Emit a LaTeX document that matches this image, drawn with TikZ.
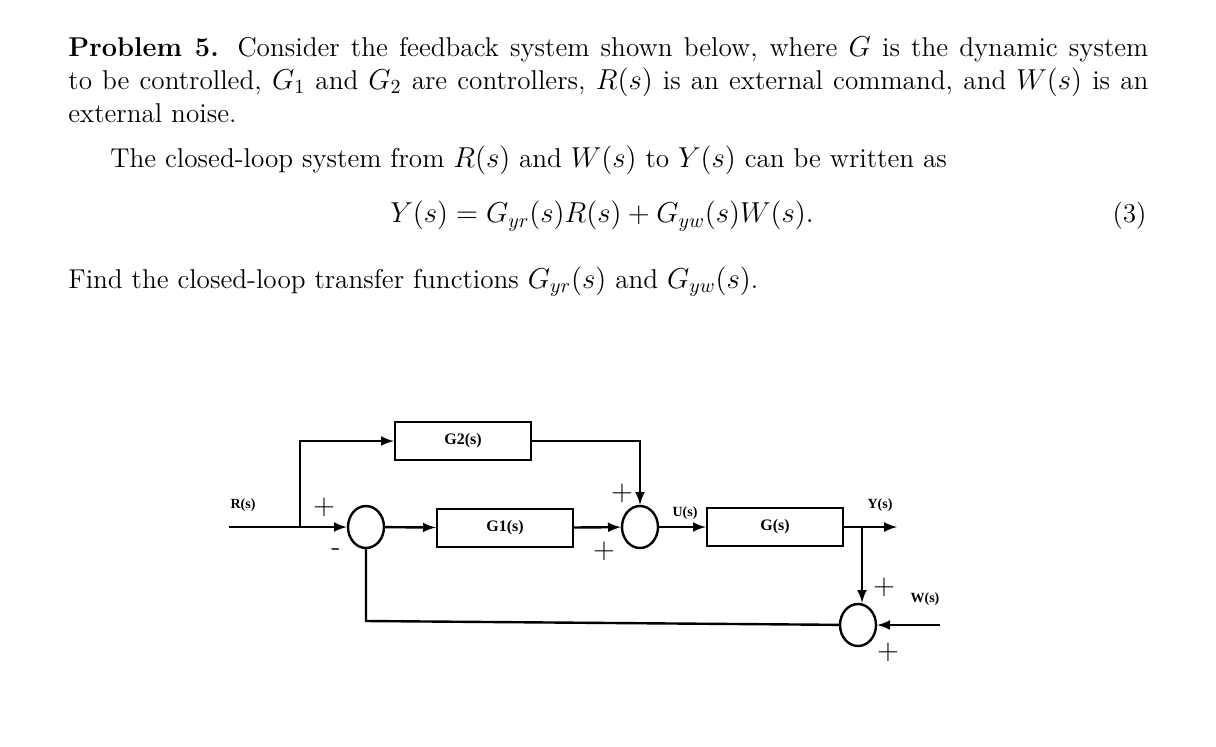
\documentclass[tikz,border=0pt]{standalone}
\usepackage{amsmath}
\usepackage{fontspec}
\usepackage{tikz}
\usetikzlibrary{arrows,shapes.geometric}
\newfontfamily\blockfont{Liberation Serif}
\tikzset{
  blk/.style={draw,line width=1.2pt,minimum width=68pt,minimum height=19pt,font=\blockfont\bfseries\fontsize{8}{9}\selectfont},
  sum/.style={draw,ellipse,line width=1.2pt,minimum width=18pt,minimum height=21pt,inner sep=0pt},
  sig/.style={font=\blockfont\bfseries\fontsize{7}{8}\selectfont},
  sgn/.style={font=\fontsize{14}{14}\selectfont},
  wire/.style={line width=1.2pt}
}
\begin{document}
\begin{tikzpicture}[x=0.5pt,y=-0.5pt]
\useasboundingbox (0,0) rectangle (1216,746);
\fontsize{13.6}{16.5}\selectfont
\node[anchor=north west,inner sep=0pt,text width=540pt,align=justify] (para1) at (68,36)
  {\textbf{Problem 5.} Consider the feedback system shown below, where $G$ is the dynamic system\linebreak
  to be controlled, $G_1$ and $G_2$ are controllers, $R(s)$ is an external command, and $W(s)$ is an\linebreak
  external noise.};
\node[anchor=north west,inner sep=0pt] (para2) at (110,145)
  {The closed-loop system from $R(s)$ and $W(s)$ to $Y(s)$ can be written as};
\node[inner sep=0pt] (eqn) at (602,216) {$Y(s)=G_{yr}(s)R(s)+G_{yw}(s)W(s).$};
\node[anchor=east,inner sep=0pt] (eqno) at (1147,216) {(3)};
\node[anchor=north west,inner sep=0pt] (para3) at (68,266)
  {Find the closed-loop transfer functions $G_{yr}(s)$ and $G_{yw}(s)$.};
% block diagram
\coordinate (rin) at (229,527);
\coordinate (brR) at (300,527);
\node[sum] (s1) at (366,527) {};
\node[blk] (g1) at (505,528) {G1(s)};
\node[blk] (g2) at (463,441) {G2(s)};
\node[sum] (s2) at (640,527) {};
\node[blk] (g) at (775,527) {G(s)};
\coordinate (yout) at (897,527);
\coordinate (brY) at (862,527);
\node[sum] (s3) at (858,625) {};
\coordinate (win) at (940,625);
\draw[wire,-latex] (rin) -- (s1);
\draw[wire,-latex] (brR) |- (g2);
\draw[wire,-latex] (g2) -| (s2);
\draw[wire,-latex] (s1) -- (g1);
\draw[wire,-latex] (g1) -- (s2);
\draw[wire,-latex] (s2) -- (g);
\draw[wire,-latex] (g) -- (yout);
\draw[wire,-latex] (brY) -- (brY |- s3.north);
\draw[wire,-latex] (win) -- (s3);
\draw[wire] (s3) -- (366,621) -- (s1);
\node[sig] (lr) at (243,505) {R(s)};
\node[sig] (lu) at (685,513) {U(s)};
\node[sig] (ly) at (880,505) {Y(s)};
\node[sig] (lw) at (925,599) {W(s)};
\node[sgn] (p1) at (324,507) {$+$};
\node[sgn] (m1) at (336,552) {-};
\node[sgn] (p2) at (622,493) {$+$};
\node[sgn] (p3) at (604,551) {$+$};
\node[sgn] (p4) at (884,587) {$+$};
\node[sgn] (p5) at (888,652) {$+$};
\end{tikzpicture}
\end{document}
